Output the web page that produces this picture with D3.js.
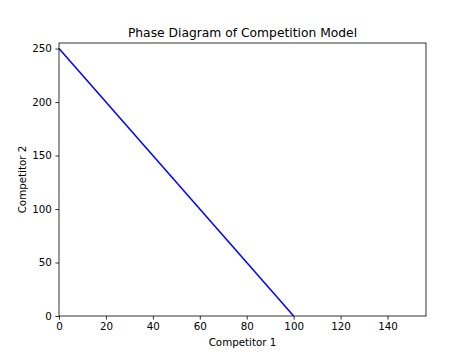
<!DOCTYPE html>
<html>
<head>
<meta charset="UTF-8">
<script src="https://cdn.jsdelivr.net/npm/d3@7"></script>
<style>
  body { margin: 0; background: #fff; }
  text { font-family: "DejaVu Sans", sans-serif; fill: #000; }
</style>
</head>
<body>
<script>
// nullcline of competitor 1
var comp1 = [0, 100];
var comp2 = [250, 0];
var xTicks = [0, 20, 40, 60, 80, 100, 120, 140];
var yTicks = [0, 50, 100, 150, 200, 250];
var xMax = 156.4;
var yMax = 255.2;

var width = 474, height = 355;
var margin = {top: 43, right: 48, bottom: 39, left: 59};

var svg = d3.select("body").append("svg")
  .attr("width", width)
  .attr("height", height);

var x = d3.scaleLinear().domain([0, xMax]).range([margin.left, width - margin.right]);
var y = d3.scaleLinear().domain([0, yMax]).range([height - margin.bottom, margin.top]);

var pts = comp1.map(function(d, i) { return [d, comp2[i]]; });

svg.append("path")
  .datum(pts)
  .attr("fill", "none")
  .attr("stroke", "#0000ff")
  .attr("stroke-width", 1.5)
  .attr("d", d3.line().x(function(d) { return x(d[0]); }).y(function(d) { return y(d[1]); }));

var xAxis = svg.append("g")
  .attr("transform", "translate(0," + (height - margin.bottom) + ")")
  .call(d3.axisBottom(x).tickValues(xTicks).tickSize(3.6).tickPadding(3.5).tickSizeOuter(0));
var yAxis = svg.append("g")
  .attr("transform", "translate(" + margin.left + ",0)")
  .call(d3.axisLeft(y).tickValues(yTicks).tickSize(3.6).tickPadding(3.5).tickSizeOuter(0));

svg.selectAll(".domain").remove();
svg.selectAll(".tick line").attr("stroke", "#000").attr("stroke-width", 0.8);
svg.selectAll(".tick text").style("font-size", "10.3px").style("font-family", "DejaVu Sans");

// frame
svg.append("rect")
  .attr("x", margin.left)
  .attr("y", margin.top)
  .attr("width", width - margin.left - margin.right)
  .attr("height", height - margin.top - margin.bottom)
  .attr("fill", "none")
  .attr("stroke", "#000")
  .attr("stroke-width", 0.8);

svg.append("text")
  .attr("x", (margin.left + width - margin.right) / 2)
  .attr("y", 37)
  .attr("text-anchor", "middle")
  .style("font-size", "12.3px")
  .text("Phase Diagram of Competition Model");

svg.append("text")
  .attr("x", (margin.left + width - margin.right) / 2)
  .attr("y", 346)
  .attr("text-anchor", "middle")
  .style("font-size", "10.3px")
  .text("Competitor 1");

svg.append("text")
  .attr("transform", "translate(26," + ((margin.top + height - margin.bottom) / 2) + ") rotate(-90)")
  .attr("text-anchor", "middle")
  .style("font-size", "10.3px")
  .text("Competitor 2");
</script>
</body>
</html>
